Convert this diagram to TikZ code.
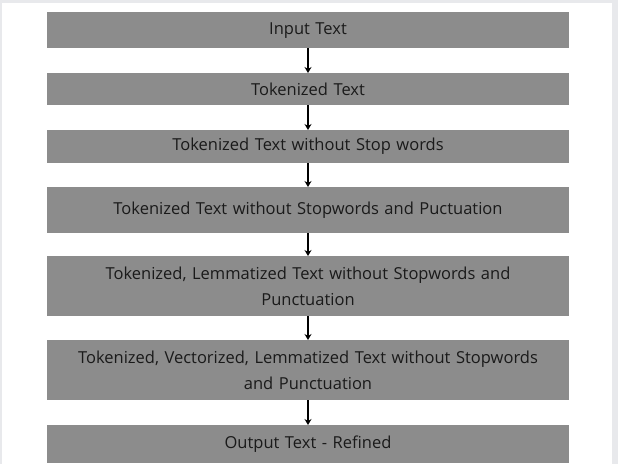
\documentclass[tikz,border=0pt]{standalone}
\usepackage{fontspec}
\setmainfont{Open Sans}
\usetikzlibrary{arrows.meta}
\definecolor{boxg}{HTML}{8C8C8C}
\definecolor{frameg}{HTML}{E8E9EC}
\definecolor{txt}{HTML}{1A1A1A}
\tikzset{
  stepbox/.style={fill=boxg, draw=none, minimum width=522pt, inner sep=0pt, align=center, text width=516pt, text=txt, font=\fontsize{16.5}{26}\selectfont, anchor=north},
  flow/.style={-{Stealth[length=6pt,width=7pt]}, line width=1.8pt, black}
}
\begin{document}
\begin{tikzpicture}[x=1pt,y=-1pt]
\useasboundingbox (0,0) rectangle (618,464);
\fill[frameg] (0,0) rectangle (618,464);
\fill[white] (2,3) rectangle (612,464);
\node[stepbox, minimum height=36pt] (b1) at (308,12) {Input Text};
\node[stepbox, minimum height=32pt] (b2) at (308,73) {Tokenized Text};
\node[stepbox, minimum height=33pt] (b3) at (308,130) {Tokenized Text without Stop words};
\node[stepbox, minimum height=46pt] (b4) at (308,187) {Tokenized Text without Stopwords and Puctuation};
\node[stepbox, minimum height=60pt] (b5) at (308,256) {Tokenized, Lemmatized Text without Stopwords and\\Punctuation};
\node[stepbox, minimum height=60pt] (b6) at (308,340) {Tokenized, Vectorized, Lemmatized Text without Stopwords\\and Punctuation};
\node[stepbox, minimum height=38pt] (b7) at (308,425) {Output Text - Refined};
\foreach \a/\b in {b1/b2,b2/b3,b3/b4,b4/b5,b5/b6,b6/b7}
  \draw[flow] (\a.south) -- (\b.north);
\end{tikzpicture}
\end{document}
